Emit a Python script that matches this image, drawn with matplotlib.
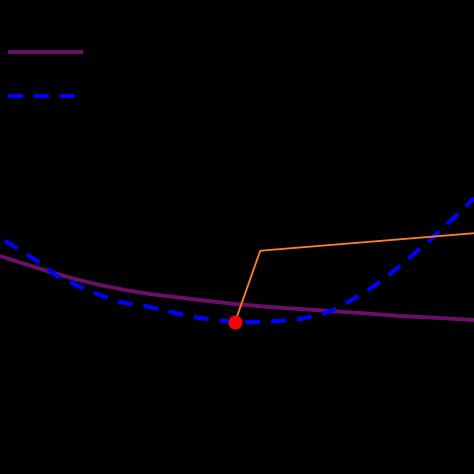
import matplotlib
matplotlib.use("Agg")
import matplotlib.pyplot as plt

# Data (x: model complexity 0..10, y: error)
complexity_a = [0.0, 0.527, 1.055, 1.582, 2.110, 2.637, 3.165, 3.692, 4.219, 4.958,
                5.696, 6.329, 6.962, 7.595, 8.439, 9.283, 10.0]
bias_curve = [4.599, 4.430, 4.262, 4.114, 3.987, 3.882, 3.797, 3.734, 3.671, 3.586,
              3.523, 3.481, 3.439, 3.397, 3.333, 3.291, 3.249]

complexity_b = [0.10, 0.422, 0.844, 1.203, 1.688, 2.110, 2.532, 3.165, 3.692, 4.072,
                4.536, 4.958, 5.485, 5.907, 6.329, 6.751, 7.068, 7.384, 7.700, 8.017,
                8.439, 8.755, 9.072, 9.388, 9.705, 10.0]
total_error = [4.92, 4.726, 4.451, 4.177, 3.945, 3.776, 3.629, 3.523, 3.397, 3.312,
               3.249, 3.207, 3.207, 3.228, 3.270, 3.354, 3.481, 3.650, 3.840, 4.051,
               4.388, 4.662, 4.937, 5.232, 5.527, 5.823]

opt_x, opt_y = 4.96, 3.21
label_corner = (5.49, 4.71)
label_end = (10.0, 5.08)

fig = plt.figure(figsize=(4.74, 4.74), dpi=100, facecolor="black")
ax = fig.add_axes([0, 0, 1, 1])
ax.set_facecolor("black")
ax.set_xlim(0, 10)
ax.set_ylim(0, 10)
ax.axis("off")

ax.plot(complexity_a, bias_curve, color="#6b0f6b", lw=2.8, label="Bias²",
        solid_capstyle="butt", solid_joinstyle="round")
ax.plot(complexity_b, total_error, color="#0000ff", lw=3.0, ls=(0, (3.6, 2.6)),
        label="Total error", dash_capstyle="butt", dash_joinstyle="round")

ax.plot([opt_x, label_corner[0], label_end[0]], [opt_y, label_corner[1], label_end[1]],
        color="#ff7f2a", lw=1.3, zorder=3)
ax.plot([opt_x], [opt_y], "o", color="#ff0000", ms=9, zorder=4)
ax.text(label_corner[0] + 0.1, label_corner[1] + 0.55, "Optimal complexity",
        color="black", fontsize=12)

leg = ax.legend(loc="upper left", bbox_to_anchor=(0.017, 0.9156), frameon=False,
                fontsize=20, handlelength=2.7, labelspacing=0.57,
                borderaxespad=0.0, borderpad=0.0, handletextpad=0.5)
for t in leg.get_texts():
    t.set_color("black")

fig.savefig("out.png", dpi=100, facecolor="black")
